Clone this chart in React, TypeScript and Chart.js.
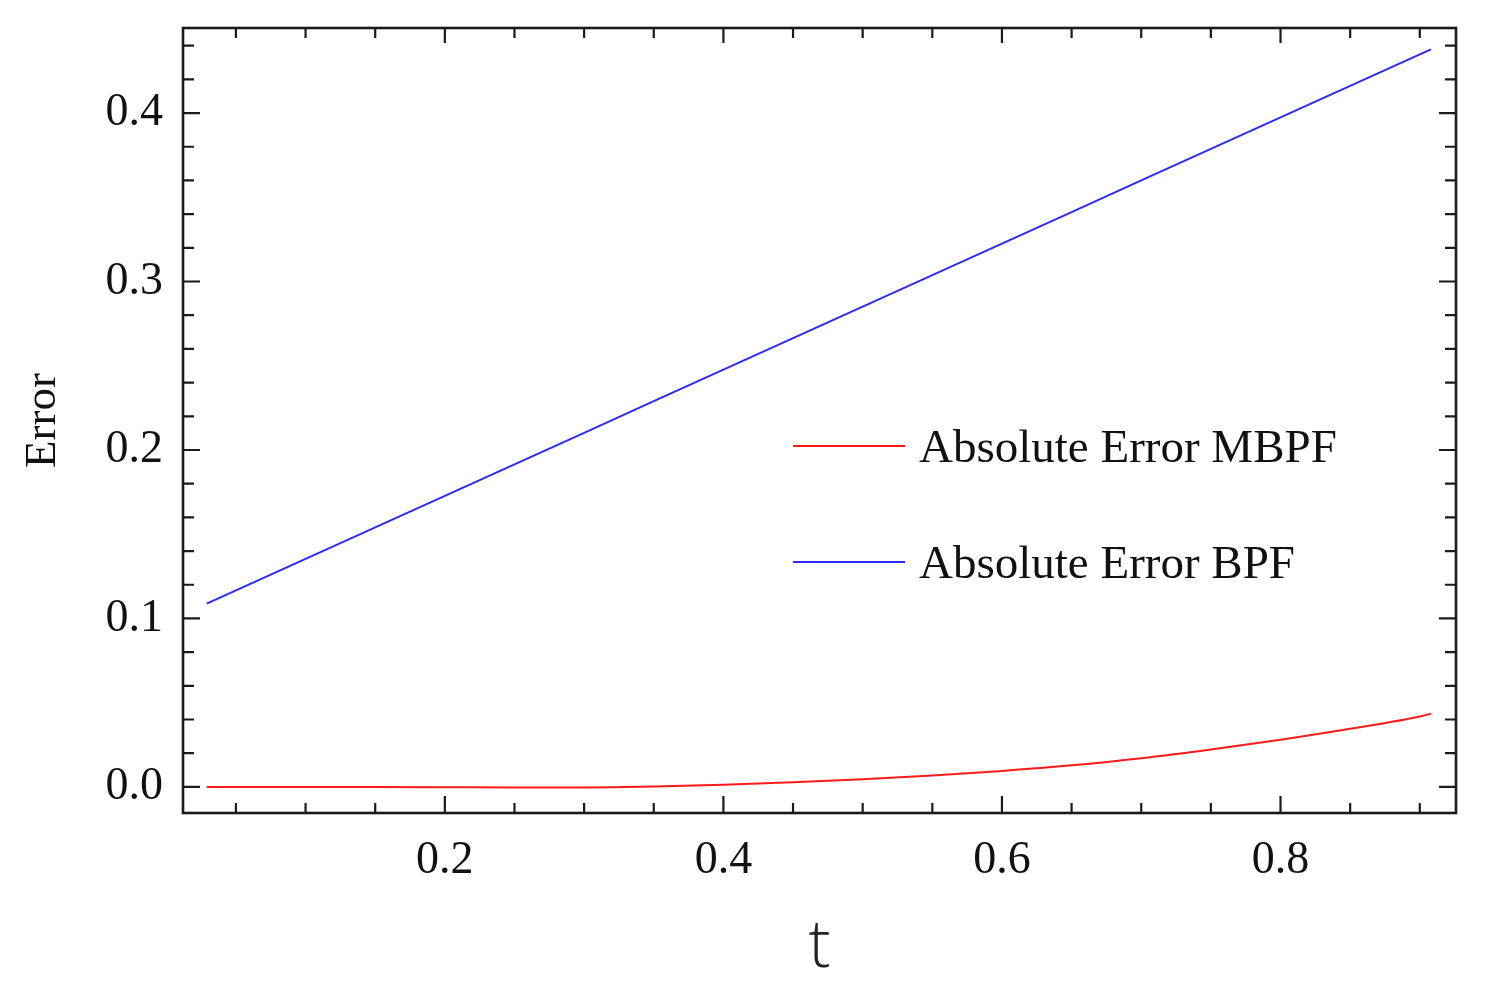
import React, { useEffect, useRef } from "react";
import { Chart, registerables } from "chart.js";

Chart.register(...registerables);

// ---- data ----
const tValues = [0.029, 0.1, 0.15, 0.2, 0.25, 0.3, 0.35, 0.4, 0.45, 0.5, 0.55, 0.6, 0.65, 0.7, 0.75, 0.8, 0.85, 0.9, 0.908];
const mbpfError = [0.0, 0.0, -0.0001, -0.0002, -0.0003, -0.0003, 0.0002, 0.0012, 0.0027, 0.0046, 0.0068, 0.0095, 0.0128, 0.017, 0.0222, 0.028, 0.0345, 0.0418, 0.0435];
const bpfError = [0.1088, 0.1354, 0.1541, 0.1728, 0.1915, 0.2102, 0.229, 0.2477, 0.2664, 0.2851, 0.3038, 0.3225, 0.3412, 0.36, 0.3787, 0.3974, 0.4161, 0.4348, 0.4378];

const seriesLabels = ["Absolute Error MBPF", "Absolute Error BPF"];
const seriesColors = ["#ff1a1a", "#2a2aff"];

const xMajorTicks = [0.2, 0.4, 0.6, 0.8];
const xMinorTicks = [0.05, 0.1, 0.15, 0.25, 0.3, 0.35, 0.45, 0.5, 0.55, 0.65, 0.7, 0.75, 0.85, 0.9];
const yMajorTicks = [0.0, 0.1, 0.2, 0.3, 0.4];
const yMinorTicks = [0.02, 0.04, 0.06, 0.08, 0.12, 0.14, 0.16, 0.18, 0.22, 0.24, 0.26, 0.28, 0.32, 0.34, 0.36, 0.38, 0.42, 0.44];

const xRange = [0.012, 0.926];
const yRange = [-0.0155, 0.4505];

const SERIF = "'Liberation Serif', 'Times New Roman', serif";

const framePlugin = {
  id: "frameTicksLegend",
  afterDraw(chart: any) {
    const { ctx, chartArea } = chart;
    const xs = chart.scales.x;
    const ys = chart.scales.y;
    const { left, right, top, bottom } = chartArea;
    ctx.save();
    ctx.strokeStyle = "#1a1a1a";
    ctx.lineWidth = 2.2;
    ctx.lineCap = "butt";
    const major = 17;
    const minor = 10;
    ctx.beginPath();
    xMajorTicks.forEach((v) => {
      const p = xs.getPixelForValue(v);
      ctx.moveTo(p, bottom); ctx.lineTo(p, bottom - major);
      ctx.moveTo(p, top); ctx.lineTo(p, top + major - 2);
    });
    xMinorTicks.forEach((v) => {
      const p = xs.getPixelForValue(v);
      ctx.moveTo(p, bottom); ctx.lineTo(p, bottom - minor);
      ctx.moveTo(p, top); ctx.lineTo(p, top + minor);
    });
    yMajorTicks.forEach((v) => {
      const p = ys.getPixelForValue(v);
      ctx.moveTo(left, p); ctx.lineTo(left + major, p);
      ctx.moveTo(right, p); ctx.lineTo(right - major, p);
    });
    yMinorTicks.forEach((v) => {
      const p = ys.getPixelForValue(v);
      ctx.moveTo(left, p); ctx.lineTo(left + minor + 1, p);
      ctx.moveTo(right, p); ctx.lineTo(right - minor - 1, p);
    });
    ctx.stroke();
    ctx.lineWidth = 2.6;
    ctx.strokeRect(left, top, right - left, bottom - top);

    // legend
    const ds = chart.data.datasets;
    const lineX0 = left + 610;
    const lineX1 = left + 722;
    const textX = left + 736;
    const rowY = [top + 418, top + 534];
    ctx.font = `47px ${SERIF}`;
    ctx.textAlign = "left";
    ctx.textBaseline = "alphabetic";
    ds.forEach((d: any, i: number) => {
      ctx.strokeStyle = d.borderColor;
      ctx.lineWidth = 2.2;
      ctx.beginPath();
      ctx.moveTo(lineX0, rowY[i]);
      ctx.lineTo(lineX1, rowY[i]);
      ctx.stroke();
      ctx.fillStyle = "#111";
      ctx.fillText(d.label, textX, rowY[i] + 16);
    });
    ctx.restore();
  },
};

export default function App() {
  const ref = useRef<HTMLCanvasElement>(null);
  useEffect(() => {
    const canvas = ref.current;
    if (!canvas) return;
    const chart = new Chart(canvas, {
      type: "line",
      data: {
        datasets: [
          {
            label: seriesLabels[0],
            data: tValues.map((t, i) => ({ x: t, y: mbpfError[i] })),
            borderColor: seriesColors[0],
            borderWidth: 2,
            pointRadius: 0,
            cubicInterpolationMode: "monotone",
            fill: false,
          },
          {
            label: seriesLabels[1],
            data: tValues.map((t, i) => ({ x: t, y: bpfError[i] })),
            borderColor: seriesColors[1],
            borderWidth: 2,
            pointRadius: 0,
            tension: 0,
            fill: false,
          },
        ],
      },
      options: {
        animation: false,
        responsive: true,
        maintainAspectRatio: false,
        devicePixelRatio: 1,
        layout: { padding: { left: 0, top: 28, right: 36, bottom: 0 } },
        plugins: { legend: { display: false }, tooltip: { enabled: false } },
        scales: {
          x: {
            type: "linear",
            min: xRange[0],
            max: xRange[1],
            grid: { display: false },
            border: { display: false },
            afterBuildTicks: (s: any) => {
              s.ticks = xMajorTicks.map((v) => ({ value: v }));
            },
            afterFit: (s: any) => {
              s.height = 179;
              s.paddingLeft = 0;
              s.paddingRight = 0;
            },
            ticks: {
              color: "#111",
              font: { family: SERIF, size: 46 },
              padding: 12,
              maxRotation: 0,
              autoSkip: false,
              callback: (v: any) => Number(v).toFixed(1),
            },
            title: {
              display: true,
              text: "t",
              color: "#222",
              font: { family: "'Open Sans', 'DejaVu Sans', sans-serif", size: 66, weight: "300" },
              padding: { top: 0, bottom: 4 },
            },
          },
          y: {
            type: "linear",
            min: yRange[0],
            max: yRange[1],
            grid: { display: false },
            border: { display: false },
            afterBuildTicks: (s: any) => {
              s.ticks = yMajorTicks.map((v) => ({ value: v }));
            },
            afterFit: (s: any) => {
              s.width = 183;
              s.paddingTop = 0;
              s.paddingBottom = 0;
            },
            ticks: {
              color: "#111",
              font: { family: SERIF, size: 46 },
              padding: 12,
              autoSkip: false,
              callback: (v: any) => Number(v).toFixed(1),
            },
            title: {
              display: true,
              text: "Error",
              color: "#111",
              font: { family: SERIF, size: 45 },
              padding: { top: 16, bottom: 0 },
            },
          },
        },
      },
      plugins: [framePlugin],
    });
    return () => chart.destroy();
  }, []);
  return (
    <div style={{ position: "fixed", left: 0, top: 0, width: 1492, height: 992, background: "#fff" }}>
      <canvas ref={ref} />
    </div>
  );
}
